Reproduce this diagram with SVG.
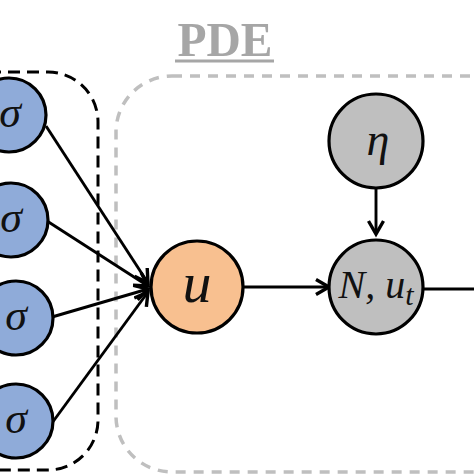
<svg xmlns="http://www.w3.org/2000/svg" width="474" height="474" viewBox="0 0 474 474">
  <defs>
    <marker id="arr" markerUnits="userSpaceOnUse" markerWidth="22" markerHeight="22" refX="16" refY="9" orient="auto">
      <path d="M3,1.5 L16,9 L3,16.5" fill="none" stroke="#000" stroke-width="3.4" stroke-linejoin="miter"/>
    </marker>
    <style>
      .sig circle { fill: #8fabd9; stroke: #000; stroke-width: 3.2; }
      .gr circle { fill: #bfbfbf; stroke: #000; stroke-width: 3.2; }
      .or circle { fill: #f8c090; stroke: #000; stroke-width: 3.2; }
      .lbl { font-family: "Liberation Serif", "DejaVu Serif", serif; font-style: italic; fill: #111; text-anchor: middle; }
      .edge { stroke: #000; stroke-width: 2.9; fill: none; }
    </style>
  </defs>
  <rect width="474" height="474" fill="#fff"/>

  <!-- group boxes -->
  <rect id="box-input" x="-80" y="72" width="178" height="398" rx="50" fill="none" stroke="#000" stroke-width="3" stroke-dasharray="12 7"/>
  <rect id="box-pde" x="116" y="76" width="420" height="396" rx="56" fill="none" stroke="#bfbfbf" stroke-width="3.5" stroke-dasharray="10 8"/>

  <g id="title">
    <text x="225" y="56" font-family="Liberation Serif, serif" font-weight="bold" font-size="49" fill="#a6a6a6" text-anchor="middle" textLength="95" lengthAdjust="spacingAndGlyphs">PDE</text>
    <line x1="175" y1="61" x2="274" y2="61" stroke="#a6a6a6" stroke-width="3"/>
  </g>

  <g id="connectors">
    <line class="edge" x1="46" y1="126" x2="148" y2="283" marker-end="url(#arr)"/>
    <line class="edge" x1="47" y1="221" x2="148" y2="286" marker-end="url(#arr)"/>
    <line class="edge" x1="52" y1="317" x2="148" y2="289" marker-end="url(#arr)"/>
    <line class="edge" x1="52" y1="423" x2="148" y2="292" marker-end="url(#arr)"/>
    <line class="edge" x1="243" y1="287" x2="329" y2="287" marker-end="url(#arr)"/>
    <line class="edge" x1="376" y1="188" x2="376" y2="234" marker-end="url(#arr)"/>
    <line class="edge" x1="424" y1="289" x2="474" y2="289"/>
  </g>

  <g id="sigma1" class="sig"><circle cx="9" cy="115" r="37"/><text class="lbl" x="10" y="127" font-size="44">σ</text></g>
  <g id="sigma2" class="sig"><circle cx="11" cy="220" r="37"/><text class="lbl" x="11" y="232" font-size="44">σ</text></g>
  <g id="sigma3" class="sig"><circle cx="16" cy="318" r="37"/><text class="lbl" x="16" y="330" font-size="44">σ</text></g>
  <g id="sigma4" class="sig"><circle cx="16" cy="421" r="37"/><text class="lbl" x="16" y="433" font-size="44">σ</text></g>

  <g id="u" class="or"><circle cx="197" cy="287" r="46"/><text class="lbl" x="197" y="302" font-size="58">u</text></g>
  <g id="eta" class="gr"><circle cx="376" cy="141" r="47"/><text class="lbl" x="378" y="155" font-size="46">η</text></g>
  <g id="N" class="gr"><circle cx="376" cy="287" r="47"/><text class="lbl" x="376" y="298" font-size="40">N, u<tspan font-size="30" dy="7">t</tspan></text></g>
</svg>
